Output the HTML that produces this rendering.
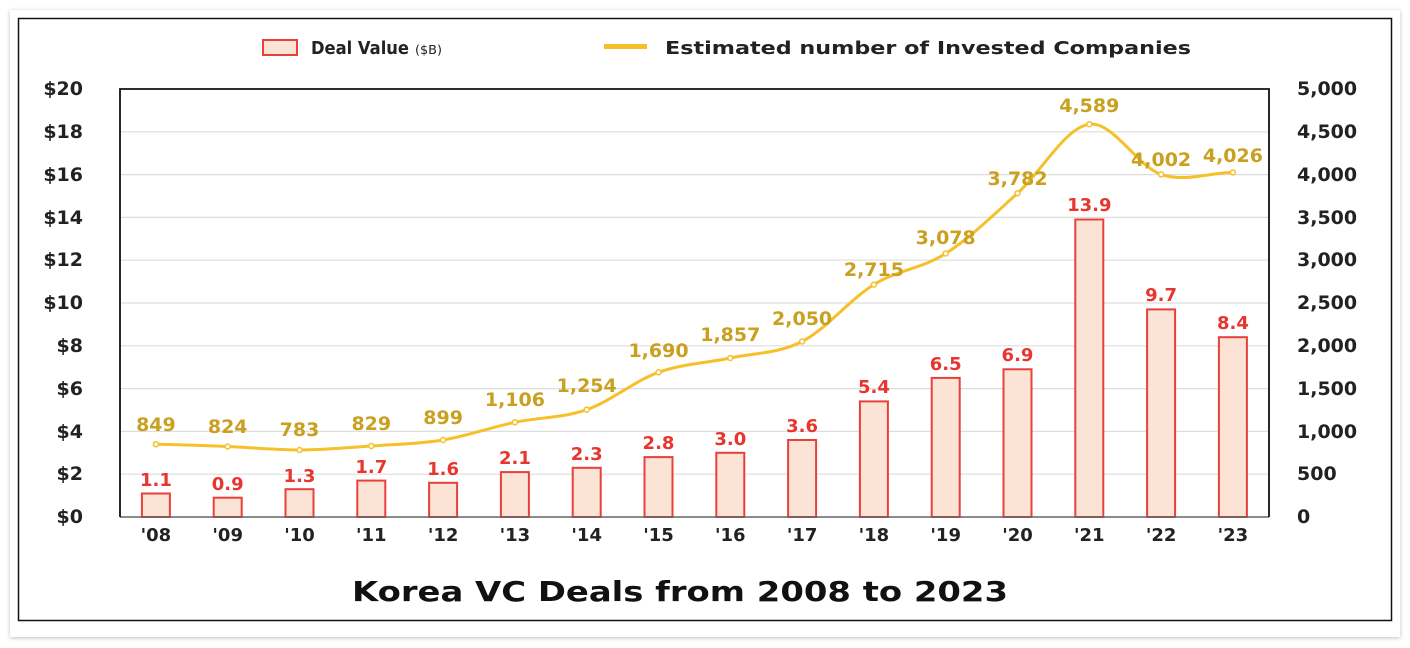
<!DOCTYPE html>
<html><head><meta charset="utf-8"><style>
html,body{margin:0;padding:0;background:#fff;}
svg{display:block;font-family:"DejaVu Sans","Liberation Sans",sans-serif;}
</style></head><body>
<svg width="1410" height="648" viewBox="0 0 1410 648">
<defs><filter id="sh" x="-5%" y="-5%" width="110%" height="110%"><feDropShadow dx="0" dy="1" stdDeviation="2" flood-color="#000" flood-opacity="0.25"/></filter></defs>
<rect x="10" y="10" width="1390" height="627" fill="#fff" filter="url(#sh)"/>
<rect x="18.5" y="18.5" width="1373" height="602" fill="#fff" stroke="#111" stroke-width="1.5"/>
<!-- legend -->
<rect x="263" y="40" width="34" height="15" fill="#fbe3d6" stroke="#e8403a" stroke-width="2"/>
<text x="311" y="54" font-size="18" font-weight="bold" fill="#222" textLength="98" lengthAdjust="spacingAndGlyphs">Deal Value</text>
<text x="415" y="54" font-size="12" fill="#222" textLength="27" lengthAdjust="spacingAndGlyphs">($B)</text>
<rect x="604" y="44" width="43" height="5" fill="#f5c02a"/>
<text x="665" y="54" font-size="18" font-weight="bold" fill="#222" textLength="526" lengthAdjust="spacingAndGlyphs">Estimated number of Invested Companies</text>
<!-- grid -->
<g stroke="#dedede" stroke-width="1.2">
<line x1="120" x2="1269" y1="131.8" y2="131.8"/><line x1="120" x2="1269" y1="174.6" y2="174.6"/>
<line x1="120" x2="1269" y1="217.4" y2="217.4"/><line x1="120" x2="1269" y1="260.2" y2="260.2"/>
<line x1="120" x2="1269" y1="303" y2="303"/><line x1="120" x2="1269" y1="345.8" y2="345.8"/>
<line x1="120" x2="1269" y1="388.6" y2="388.6"/><line x1="120" x2="1269" y1="431.4" y2="431.4"/>
<line x1="120" x2="1269" y1="474.2" y2="474.2"/>
</g>
<!-- bars -->
<g fill="#fbe3d6" stroke="#e8403a" stroke-width="2">
<rect x="141.9" y="493.5" width="28" height="23.5"/>
<rect x="213.7" y="497.7" width="28" height="19.3"/>
<rect x="285.5" y="489.2" width="28" height="27.8"/>
<rect x="357.3" y="480.6" width="28" height="36.4"/>
<rect x="429.1" y="482.8" width="28" height="34.2"/>
<rect x="500.9" y="472.1" width="28" height="44.9"/>
<rect x="572.7" y="467.8" width="28" height="49.2"/>
<rect x="644.5" y="457.1" width="28" height="59.9"/>
<rect x="716.3" y="452.8" width="28" height="64.2"/>
<rect x="788.1" y="440.0" width="28" height="77.0"/>
<rect x="859.9" y="401.4" width="28" height="115.6"/>
<rect x="931.7" y="377.9" width="28" height="139.1"/>
<rect x="1003.5" y="369.3" width="28" height="147.7"/>
<rect x="1075.3" y="219.5" width="28" height="297.5"/>
<rect x="1147.1" y="309.4" width="28" height="207.6"/>
<rect x="1218.9" y="337.2" width="28" height="179.8"/>
</g>
<!-- plot border -->
<line x1="120" y1="517" x2="1269" y2="517" stroke="#666" stroke-width="1.5"/>
<polyline points="120,517 120,89 1269,89 1269,517" fill="none" stroke="#111" stroke-width="1.8"/>
<!-- line -->
<path d="M155.9,444.3 C179.8,444.7 203.8,445.6 227.7,446.5 C251.6,447.5 275.6,450.1 299.5,450.0 C323.4,449.9 347.4,447.7 371.3,446.0 C395.2,444.3 419.2,444.0 443.1,440.0 C467.0,436.0 491.0,427.4 514.9,422.3 C538.8,417.3 562.8,418.0 586.7,409.7 C610.6,401.4 634.6,380.9 658.5,372.3 C682.4,363.7 706.4,363.1 730.3,358.0 C754.2,352.9 778.2,353.7 802.1,341.5 C826.0,329.3 850.0,299.3 873.9,284.6 C897.8,269.9 921.8,268.7 945.7,253.5 C969.6,238.3 993.6,214.9 1017.5,193.3 C1041.4,171.8 1065.4,127.4 1089.3,124.2 C1113.2,121.1 1137.2,166.4 1161.1,174.4 C1185.0,182.4 1209.0,172.7 1232.9,172.4" fill="none" stroke="#f5c02a" stroke-width="3"/>
<g fill="#fff" stroke="#f5c02a" stroke-width="1.5">
<circle cx="155.9" cy="444.3" r="2.5"/><circle cx="227.7" cy="446.5" r="2.5"/><circle cx="299.5" cy="450" r="2.5"/><circle cx="371.3" cy="446" r="2.5"/><circle cx="443.1" cy="440" r="2.5"/><circle cx="514.9" cy="422.3" r="2.5"/><circle cx="586.7" cy="409.7" r="2.5"/><circle cx="658.5" cy="372.3" r="2.5"/><circle cx="730.3" cy="358" r="2.5"/><circle cx="802.1" cy="341.5" r="2.5"/><circle cx="873.9" cy="284.6" r="2.5"/><circle cx="945.7" cy="253.5" r="2.5"/><circle cx="1017.5" cy="193.3" r="2.5"/><circle cx="1089.3" cy="124.2" r="2.5"/><circle cx="1161.1" cy="174.4" r="2.5"/><circle cx="1232.9" cy="172.4" r="2.5"/>
</g>
<!-- line labels -->
<g fill="#c9a020" font-size="19" font-weight="bold" text-anchor="middle">
<text x="155.9" y="431">849</text><text x="227.7" y="433">824</text><text x="299.5" y="436">783</text><text x="371.3" y="430">829</text><text x="443.1" y="424">899</text><text x="514.9" y="406">1,106</text><text x="586.7" y="392">1,254</text><text x="658.5" y="357">1,690</text><text x="730.3" y="341">1,857</text><text x="802.1" y="325">2,050</text><text x="873.9" y="276">2,715</text><text x="945.7" y="244">3,078</text><text x="1017.5" y="185">3,782</text><text x="1089.3" y="112">4,589</text><text x="1161.1" y="166">4,002</text><text x="1232.9" y="162">4,026</text>
</g>
<!-- bar labels -->
<g fill="#e8352e" font-size="18" font-weight="bold" text-anchor="middle">
<text x="155.9" y="486">1.1</text><text x="227.7" y="490">0.9</text><text x="299.5" y="482">1.3</text><text x="371.3" y="473">1.7</text><text x="443.1" y="475">1.6</text><text x="514.9" y="464">2.1</text><text x="586.7" y="460">2.3</text><text x="658.5" y="449">2.8</text><text x="730.3" y="445">3.0</text><text x="802.1" y="432">3.6</text><text x="873.9" y="393">5.4</text><text x="945.7" y="370">6.5</text><text x="1017.5" y="361">6.9</text><text x="1089.3" y="211">13.9</text><text x="1161.1" y="301">9.7</text><text x="1232.9" y="329">8.4</text>
</g>
<!-- left axis -->
<g fill="#222" font-size="19" font-weight="bold" text-anchor="end">
<text x="83" y="95">$20</text><text x="83" y="138">$18</text><text x="83" y="181">$16</text><text x="83" y="224">$14</text><text x="83" y="266">$12</text><text x="83" y="309">$10</text><text x="83" y="352">$8</text><text x="83" y="395">$6</text><text x="83" y="438">$4</text><text x="83" y="480">$2</text><text x="83" y="523">$0</text>
</g>
<g fill="#222" font-size="19" font-weight="bold" text-anchor="start">
<text x="1297" y="95">5,000</text><text x="1297" y="138">4,500</text><text x="1297" y="181">4,000</text><text x="1297" y="224">3,500</text><text x="1297" y="266">3,000</text><text x="1297" y="309">2,500</text><text x="1297" y="352">2,000</text><text x="1297" y="395">1,500</text><text x="1297" y="438">1,000</text><text x="1297" y="480">500</text><text x="1297" y="523">0</text>
</g>
<g fill="#222" font-size="18" font-weight="bold" text-anchor="middle">
<text x="155.9" y="541">'08</text><text x="227.7" y="541">'09</text><text x="299.5" y="541">'10</text><text x="371.3" y="541">'11</text><text x="443.1" y="541">'12</text><text x="514.9" y="541">'13</text><text x="586.7" y="541">'14</text><text x="658.5" y="541">'15</text><text x="730.3" y="541">'16</text><text x="802.1" y="541">'17</text><text x="873.9" y="541">'18</text><text x="945.7" y="541">'19</text><text x="1017.5" y="541">'20</text><text x="1089.3" y="541">'21</text><text x="1161.1" y="541">'22</text><text x="1232.9" y="541">'23</text>
</g>
<text x="352" y="601" font-size="28" font-weight="bold" fill="#111" textLength="656" lengthAdjust="spacingAndGlyphs">Korea VC Deals from 2008 to 2023</text>
</svg>
</body></html>
